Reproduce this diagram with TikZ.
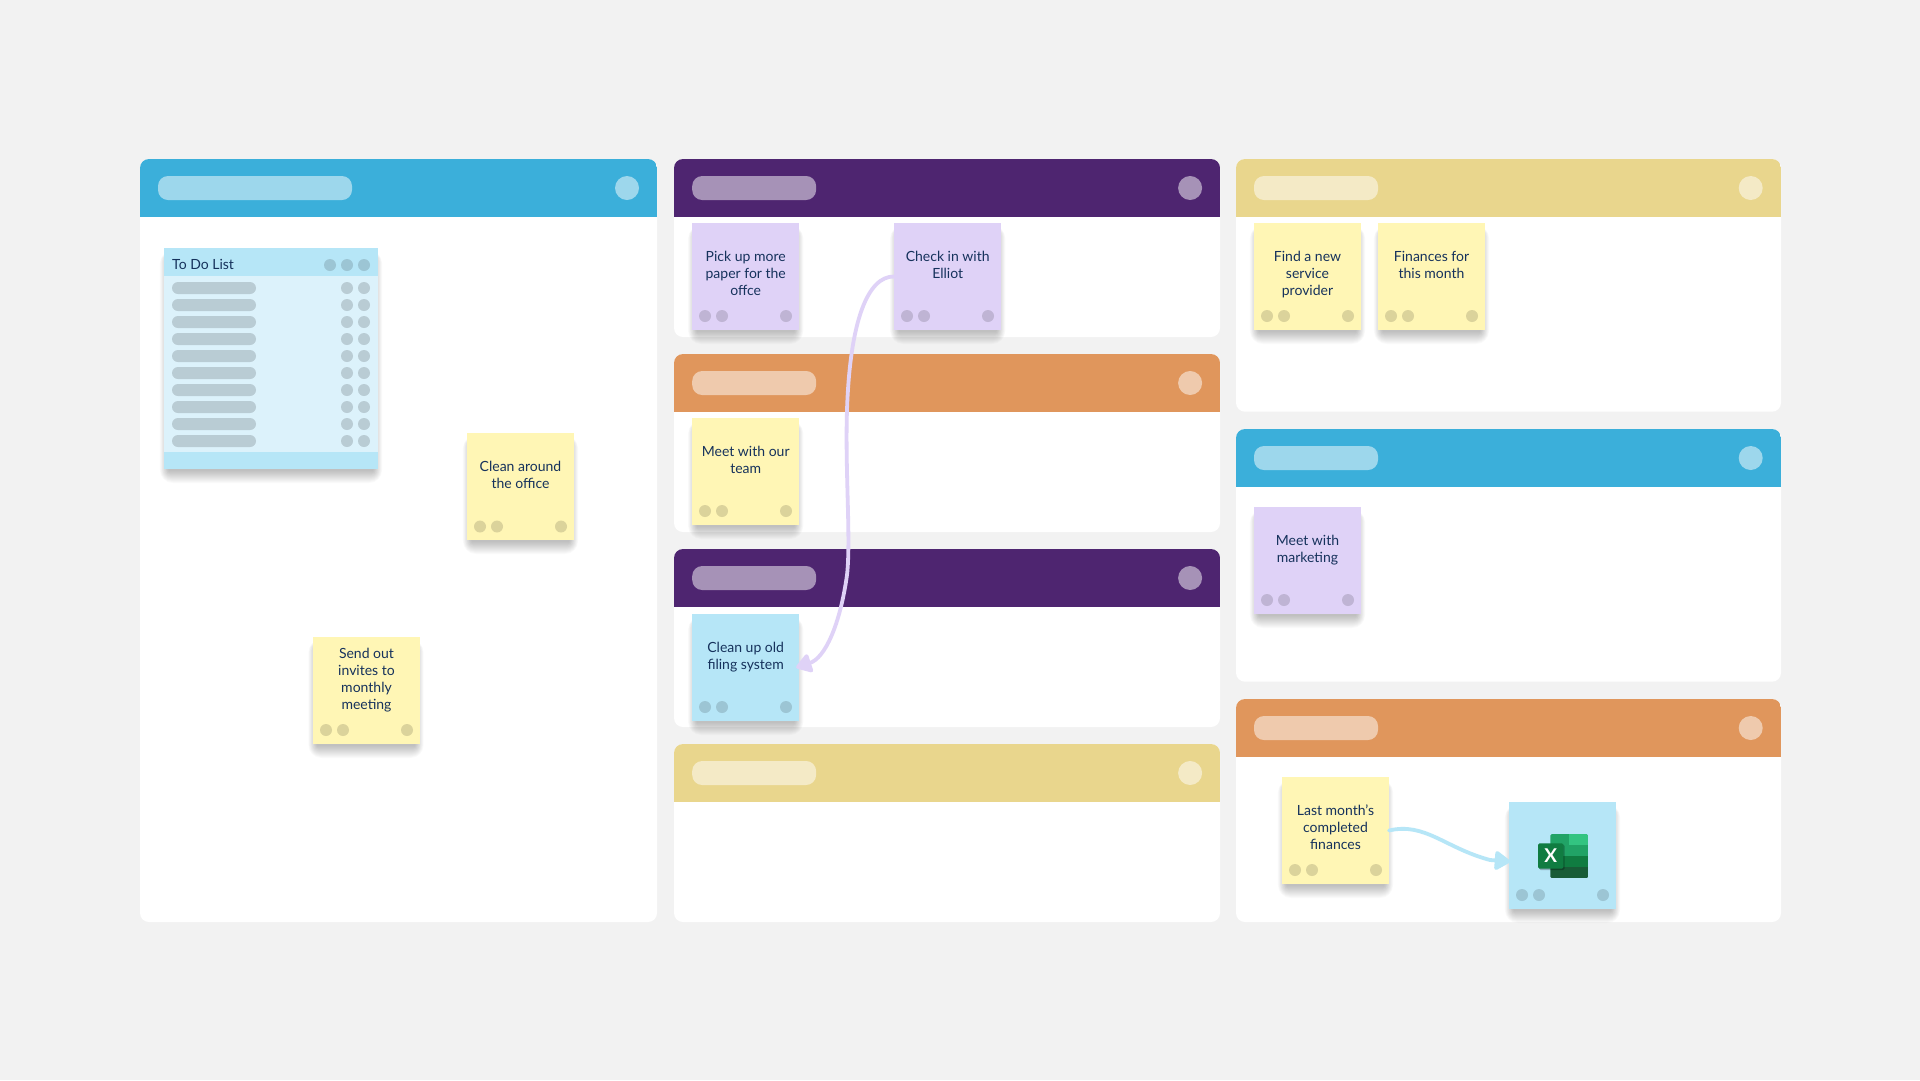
\documentclass[tikz,border=0pt]{standalone}
\usepackage{fontspec}
\setmainfont{Lato}
\usetikzlibrary{arrows.meta,calc}
\definecolor{bgc}{HTML}{F2F2F2}
\definecolor{hblue}{HTML}{3BAFDA}
\definecolor{hpurple}{HTML}{4E2570}
\definecolor{horange}{HTML}{E0965C}
\definecolor{hyellow}{HTML}{E9D68D}
\definecolor{nyellow}{HTML}{FFF6B5}
\definecolor{npurple}{HTML}{DFD2F7}
\definecolor{nblue}{HTML}{B6E6F7}
\definecolor{tbody}{HTML}{DCF2FB}
\definecolor{trow}{HTML}{B9CCD4}
\definecolor{tink}{HTML}{16325C}
\definecolor{xa}{HTML}{21A366}
\definecolor{xb}{HTML}{33C481}
\definecolor{xc}{HTML}{107C41}
\definecolor{xd}{HTML}{185C37}
\tikzset{
  x=1pt,y=-1pt,
  pillmark/.style={fill=white,fill opacity=.5},
  notedot/.style={fill=black,fill opacity=.14},
  rowmark/.style={fill=trow},
  notebox/.style={rectangle,anchor=north west,inner sep=0pt,outer sep=0pt},
  notetext/.style={anchor=north,inner sep=0pt,yshift=-1.9pt,align=center,text=tink,font=\fontsize{14}{17}\selectfont},
  shadowlayer/.style={fill=black,fill opacity=.018},
  linkline/.style={line width=3.8pt,line cap=round},
  linktip/.style={-{Triangle[length=17pt,width=21pt,round]}},
}
% panel: x1,y1,x2,y2,header colour,pill x1,pill x2,circle cx
\newcommand\Panel[8]{%
  \fill[white,rounded corners=9pt] (#1,#2) rectangle (#3,#4);
  \begin{scope}
    \clip[rounded corners=9pt] (#1,#2) rectangle (#3,#4);
    \fill[#5] (#1,#2) rectangle (#3,#2+58);
  \end{scope}
  \fill[pillmark,rounded corners=10pt] (#6,#2+17) rectangle (#7,#2+41);
  \fill[pillmark] (#8,#2+29) circle [radius=12];
}
\newcommand\SoftShadow[4]{%
  \foreach \g in {1,...,13}{%
    \fill[shadowlayer,rounded corners=\g pt] (#1+5-0.7*\g,#2+9-0.5*\g) rectangle (#3-5+0.7*\g,#4+1+\g);
  }%
}
% note: name,x,y,w,h,colour
\newcommand\Note[6]{%
  \SoftShadow{#2}{#3}{#2+#4}{#3+#5}
  \node[notebox,fill=#6,minimum width=#4 pt,minimum height=#5 pt] (#1) at (#2,#3) {};
}
\newcommand\Dots[4]{%
  \fill[notedot] (#1,#4) circle [radius=6];
  \fill[notedot] (#2,#4) circle [radius=6];
  \fill[notedot] (#3,#4) circle [radius=6];
}
\begin{document}
\begin{tikzpicture}
\useasboundingbox (0,0) rectangle (1920,1080);
\fill[bgc] (0,0) rectangle (1920,1080);
% panels
\Panel{140}{159}{657}{922}{hblue}{158}{352}{627}
\Panel{674}{159}{1220}{337}{hpurple}{692.2}{816.1}{1190.1}
\Panel{674}{354}{1220}{532}{horange}{692.2}{816.1}{1190.1}
\Panel{674}{549}{1220}{727}{hpurple}{692.2}{816.1}{1190.1}
\Panel{674}{744}{1220}{922}{hyellow}{692.2}{816.1}{1190.1}
\Panel{1236}{159}{1781}{411.7}{hyellow}{1254}{1378}{1750.7}
\Panel{1236}{429}{1781}{681.7}{hblue}{1254}{1378}{1750.7}
\Panel{1236}{699}{1781}{922}{horange}{1254}{1378}{1750.7}
% to do list
\SoftShadow{164}{248}{378}{469}
\node[notebox,fill=tbody,minimum width=214pt,minimum height=221pt] (todo) at (164,248) {};
\fill[nblue] (164,248) rectangle (378,276);
\fill[nblue] (164,452) rectangle (378,469);
\node[anchor=west,inner sep=0pt,text=tink,font=\fontsize{14}{17}\selectfont] (todotitle) at (172,264.5) {To Do List};
\fill[notedot] (330,265) circle [radius=6];
\fill[notedot] (347,265) circle [radius=6];
\fill[notedot] (364,265) circle [radius=6];
\foreach \i in {0,...,9}{
  \fill[rowmark,rounded corners=6pt] (172,282+17*\i) rectangle (256,294+17*\i);
  \fill[rowmark] (347,288+17*\i) circle [radius=6];
  \fill[rowmark] (364,288+17*\i) circle [radius=6];
}
% column 1 notes
\Note{clean}{467}{433}{107}{107}{nyellow}
\node[notetext] (cleant) at (520.5,457.6) {\strut Clean around\\the office};
\Dots{480}{497}{561}{526.5}
\Note{send}{312.5}{637}{107}{107}{nyellow}
\node[notetext] (sendt) at (366.5,644.6) {\strut Send out\\invites to\\monthly\\meeting};
\Dots{326}{343}{407}{730}
% column 2 notes
\Note{pick}{692.2}{223}{107}{107}{npurple}
\node[notetext] (pickt) at (745.7,247.6) {\strut Pick up more\\paper for the\\offce};
\Dots{705}{722}{786}{316}
\Note{check}{894.2}{223}{107}{107}{npurple}
\node[notetext] (checkt) at (947.7,247.6) {\strut Check in with\\Elliot};
\Dots{907}{924}{988}{316}
\Note{team}{692.2}{418}{107}{107}{nyellow}
\node[notetext] (teamt) at (745.7,442.6) {\strut Meet with our\\team};
\Dots{705}{722}{786}{511}
\Note{filing}{692.2}{614}{107}{107}{nblue}
\node[notetext] (filingt) at (745.7,638.6) {\strut Clean up old\\filing system};
\Dots{705}{722}{786}{707}
% column 3 notes
\Note{find}{1254}{223}{107}{107}{nyellow}
\node[notetext] (findt) at (1307.5,247.6) {\strut Find a new\\service\\provider};
\Dots{1267}{1284}{1348}{316}
\Note{fin}{1378}{223}{107}{107}{nyellow}
\node[notetext] (fint) at (1431.5,247.6) {\strut Finances for\\this month};
\Dots{1391}{1408}{1472}{316}
\Note{mkt}{1254}{507}{107}{107}{npurple}
\node[notetext] (mktt) at (1307.5,531.6) {\strut Meet with\\marketing};
\Dots{1267}{1284}{1348}{600}
\Note{last}{1282}{777}{107}{107}{nyellow}
\node[notetext] (lastt) at (1335.5,801.6) {\strut Last month’s\\completed\\finances};
\Dots{1295}{1312}{1376}{870}
\Note{xl}{1509}{802}{107}{107}{nblue}
\Dots{1522}{1539}{1603}{895}
% excel icon
\begin{scope}
  \clip[rounded corners=1.5pt] (1550.3,834) rectangle (1588,878.3);
  \fill[xa] (1550.3,834) rectangle (1569.3,856);
  \fill[xb] (1569.3,834) rectangle (1588,845);
  \fill[xa] (1569.3,845) rectangle (1588,856);
  \fill[xc] (1550.3,856) rectangle (1588,867.3);
  \fill[xd] (1550.3,867.3) rectangle (1588,878.3);
\end{scope}
\fill[black,fill opacity=.25,rounded corners=1.5pt] (1539,844.5) rectangle (1564.5,870);
\fill[xc,rounded corners=1.5pt] (1538,843.3) rectangle (1563.3,868.7);
\node[inner sep=0pt,text=white,font=\fontsize{19}{19}\bfseries\selectfont] (xlx) at (1550.7,856) {X};
% connectors
\coordinate (filingtip) at ($(filing.east)+(-3,0)$);
\coordinate (xltip) at ($(xl.west)+(1,6)$);
\draw[linkline,linktip,npurple] (check.west)
  .. controls (868,276) and (850,320) .. (847,410)
  .. controls (845,470) and (851,540) .. (847,575)
  .. controls (840,625) and (825,658) .. (filingtip);
\draw[linkline,linktip,nblue] (last.east)
  .. controls (1425,822) and (1445,848) .. (1490,860) -- (xltip);
\end{tikzpicture}
\end{document}
